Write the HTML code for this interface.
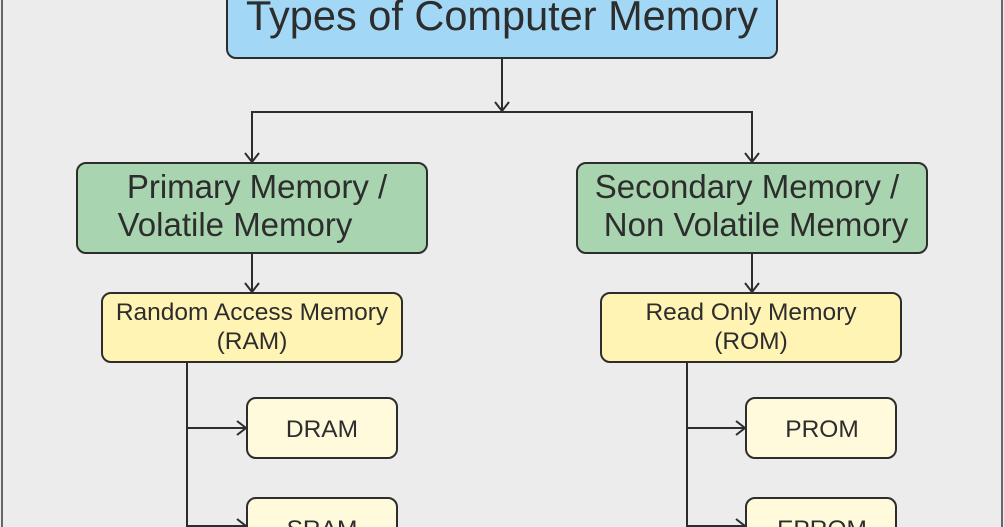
<!DOCTYPE html>
<html style="overflow:hidden"><head><style>
html,body{margin:0;width:1004px;height:527px;overflow:hidden;background:#ebeceb;font-family:"Liberation Sans",sans-serif;}
svg{display:block;overflow:hidden}
</style></head><body>
<svg width="1004" height="527" viewBox="0 0 1004 527" xmlns="http://www.w3.org/2000/svg">
<rect x="0" y="0" width="1004" height="527" fill="#ebeceb"/>
<line x1="2" y1="0" x2="2" y2="527" stroke="#666" stroke-width="2"/>
<line x1="1002" y1="0" x2="1002" y2="527" stroke="#666" stroke-width="2"/>
<g fill="none" stroke="#2d2d2d" stroke-width="2">
<path d="M502 58V112M252 163V112H752V163M252 253V293M752 253V293"/>
<path d="M495 102l7 9 7-9M245 153l7 9 7-9M745 153l7 9 7-9M245 283l7 9 7-9M745 283l7 9 7-9"/>
<path d="M187 362V527M187 428H246M187 526H246M687 362V527M687 428H745M687 526H745"/>
<path d="M237 421l9 7-9 7M736 421l9 7-9 7M237 519l9 7-9 7M736 519l9 7-9 7"/>
</g>
<g stroke="#2d2d2d" stroke-width="2">
<rect x="227" y="-12" width="550" height="70" rx="9" fill="#a2d8f5"/>
<rect x="77" y="163" width="350" height="90" rx="9" fill="#a8d5b0"/>
<rect x="577" y="163" width="350" height="90" rx="9" fill="#a8d5b0"/>
<rect x="102" y="293" width="300" height="69" rx="9" fill="#fff4b4"/>
<rect x="601" y="293" width="300" height="69" rx="9" fill="#fff4b4"/>
<rect x="247" y="398" width="150" height="60" rx="9" fill="#fffadc"/>
<rect x="746" y="398" width="150" height="60" rx="9" fill="#fffadc"/>
<rect x="247" y="498" width="150" height="40" rx="9" fill="#fffadc"/>
<rect x="746" y="498" width="150" height="40" rx="9" fill="#fffadc"/>
</g>
<g fill="#2d2d2d" text-anchor="middle" font-family="Liberation Sans, sans-serif">
<text x="502" y="30" font-size="41.5">Types of Computer Memory</text>
<text x="257" y="198" font-size="33">Primary Memory /</text>
<text x="235" y="236" font-size="33">Volatile Memory</text>
<text x="747" y="198" font-size="33">Secondary Memory /</text>
<text x="756" y="236" font-size="33">Non Volatile Memory</text>
<text x="252" y="320" font-size="24.5">Random Access Memory</text>
<text x="252" y="349" font-size="24.5">(RAM)</text>
<text x="751" y="320" font-size="24.5">Read Only Memory</text>
<text x="751" y="349" font-size="24.5">(ROM)</text>
<text x="322" y="437" font-size="24.5">DRAM</text>
<text x="822" y="437" font-size="24.5">PROM</text>
<text x="322" y="537" font-size="24.5">SRAM</text>
<text x="822" y="537" font-size="24.5">EPROM</text>
</g>
</svg>
</body></html>
